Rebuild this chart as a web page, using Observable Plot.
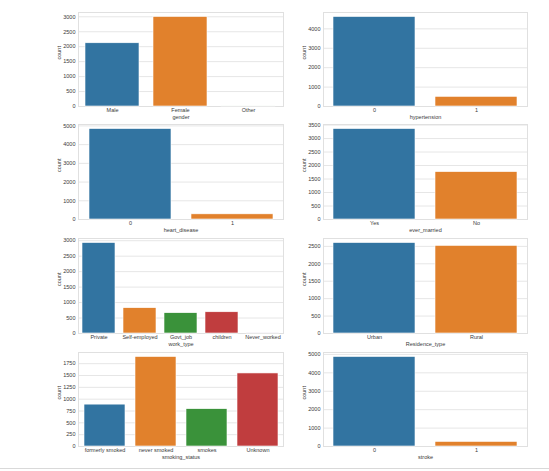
<!DOCTYPE html>
<html>
<head>
<meta charset="utf-8">
<script src="https://cdn.jsdelivr.net/npm/d3@7"></script>
<script src="https://cdn.jsdelivr.net/npm/@observablehq/plot@0.6"></script>
<style>
  body { margin: 0; background: #fff; }
  #page { position: relative; width: 549px; height: 471px; background: #fff; overflow: hidden; }
  #page svg { position: absolute; }
  #rule { position: absolute; left: 0; top: 468px; width: 549px; height: 1px; background: #d9d9d9; }
</style>
</head>
<body>
<div id="page"><div id="rule"></div></div>
<script>
// seaborn default (deep) palette
const palette = ["#3274a1", "#e1812c", "#3a923a", "#c03d3e", "#9372b2"];

const genderCats = ["Male", "Female", "Other"];
const genderCounts = [2115, 2994, 1];

const hypertensionCats = ["0", "1"];
const hypertensionCounts = [4612, 498];

const heartCats = ["0", "1"];
const heartCounts = [4834, 276];

const marriedCats = ["Yes", "No"];
const marriedCounts = [3353, 1757];

const workCats = ["Private", "Self-employed", "Govt_job", "children", "Never_worked"];
const workCounts = [2925, 819, 657, 687, 22];

const residenceCats = ["Urban", "Rural"];
const residenceCounts = [2596, 2514];

const smokingCats = ["formerly smoked", "never smoked", "smokes", "Unknown"];
const smokingCounts = [885, 1892, 789, 1544];

const strokeCats = ["0", "1"];
const strokeCounts = [4861, 249];

const panels = [
  {name: "gender", cats: genderCats, counts: genderCounts, step: 500, col: 0, row: 0},
  {name: "hypertension", cats: hypertensionCats, counts: hypertensionCounts, step: 1000, col: 1, row: 0},
  {name: "heart_disease", cats: heartCats, counts: heartCounts, step: 1000, col: 0, row: 1},
  {name: "ever_married", cats: marriedCats, counts: marriedCounts, step: 500, col: 1, row: 1},
  {name: "work_type", cats: workCats, counts: workCounts, step: 500, col: 0, row: 2},
  {name: "Residence_type", cats: residenceCats, counts: residenceCounts, step: 500, col: 1, row: 2},
  {name: "smoking_status", cats: smokingCats, counts: smokingCounts, step: 250, col: 0, row: 3},
  {name: "stroke", cats: strokeCats, counts: strokeCounts, step: 1000, col: 1, row: 3}
];

// frame edges of each grid cell (pixels in the page)
const colFrames = [[78, 283], [323, 527]];
const rowFrames = [[12, 106], [124, 219], [238, 333], [352, 446]];
const colSvg = [[0, 290], [240, 309]];  // left, width

const page = document.getElementById("page");
const ink = "#3a3a3a";

panels.forEach(p => {
  const [fl, fr] = colFrames[p.col];
  const [ft, fb] = rowFrames[p.row];
  const [sl, sw] = colSvg[p.col];
  const mTop = 8, mBottom = 22;
  const data = p.cats.map((c, i) => ({cat: c, n: p.counts[i]}));
  const top = d3.max(p.counts) * 1.05;
  const ticks = d3.range(0, top, p.step);

  const chart = Plot.plot({
    width: sw,
    height: mTop + (fb - ft) + mBottom,
    marginLeft: fl - sl,
    marginRight: sl + sw - fr,
    marginTop: mTop,
    marginBottom: mBottom,
    style: {background: "transparent", fontFamily: "'Liberation Sans', Arial, sans-serif", fontSize: "5.5px", color: ink},
    x: {domain: p.cats, paddingInner: 0.2, paddingOuter: 0.1, label: null},
    y: {domain: [0, top], label: null},
    color: {domain: p.cats, range: palette},
    marks: [
      Plot.gridY(ticks, {stroke: "#e6e6e6", strokeOpacity: 1, strokeWidth: 1}),
      Plot.frame({stroke: "#e0e0e0"}),
      Plot.barY(data, {x: "cat", y: "n", fill: "cat", stroke: "white", strokeWidth: 0.6, inset: 0}),
      Plot.axisX({tickSize: 0, tickPadding: 2, label: null, fill: ink}),
      Plot.axisY(ticks, {tickSize: 0, tickPadding: 3, label: null, fill: ink, tickFormat: d => String(d)}),
      Plot.text([p.name], {frameAnchor: "bottom", dy: 12, fill: ink}),
      Plot.text(["count"], {frameAnchor: "left", dx: -19, rotate: -90, fill: ink})
    ]
  });
  chart.style.left = sl + "px";
  chart.style.top = (ft - mTop) + "px";
  page.appendChild(chart);
});
</script>
</body>
</html>
